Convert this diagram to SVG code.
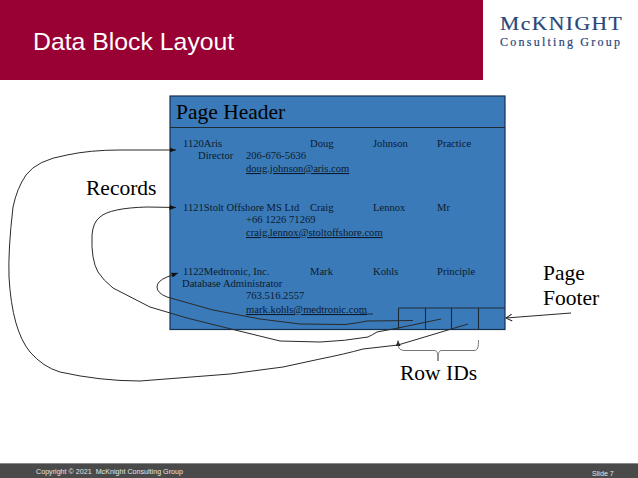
<svg xmlns="http://www.w3.org/2000/svg" width="638" height="478" viewBox="0 0 638 478">
<style>
.s{font-family:"Liberation Serif","Times New Roman",serif;fill:#000}
.r{font-size:10.6px;fill:#0c1a2e}
.b{font-size:21.5px}
.u{text-decoration:underline}
.l{fill:none;stroke:#1e2a38;stroke-width:1.1}
.c{fill:none;stroke:#2a2a2a;stroke-width:1}
.g{fill:none;stroke:#666;stroke-width:0.9}
.a{font-family:"Liberation Sans",Arial,sans-serif}
.t{font-size:7.15px;fill:#e4e4e4;white-space:pre}
</style>
<defs>
<marker id="ah" markerWidth="8" markerHeight="8" refX="6.500" refY="3" orient="auto" markerUnits="userSpaceOnUse"><path d="M0 0.500L6.500 3L0 5.500Z" fill="#111"/></marker>
<marker id="oh" markerWidth="9" markerHeight="9" refX="7" refY="4" orient="auto" markerUnits="userSpaceOnUse"><path d="M1 0.500L7 4L1 7.500" fill="none" stroke="#222" stroke-width="1"/></marker>
</defs>
<g id="banner">
<rect x="0" y="0" width="483" height="80" fill="#990033"/>
<text class="a" x="33" y="50" font-size="24.800" fill="#fff">Data Block Layout</text>
</g>
<g id="logo">
<text transform="translate(500 30) scale(1.2 1)" font-family="Liberation Serif,serif" font-size="18" fill="#27477a" stroke="#27477a" stroke-width="0.2" textLength="101.500" lengthAdjust="spacing">McKNIGHT</text>
<text x="500" y="46" font-family="Liberation Serif,serif" font-size="12" fill="#27477a" stroke="#27477a" stroke-width="0.2" textLength="120" lengthAdjust="spacing">Consulting Group</text>
</g>
<g id="page">
<rect x="170" y="96" width="335" height="233.500" fill="#3a7ab8" stroke="#16304f" stroke-width="1.200"/>
<line class="l" x1="170" y1="127.500" x2="505" y2="127.500"/>
<text class="s" x="176" y="119" font-size="21.500" fill="#0c1a2e">Page Header</text>
</g>
<g id="record-1120" class="s r">
<text x="183" y="147">1120Aris</text><text x="310" y="147">Doug</text><text x="373" y="147">Johnson</text><text x="437" y="147">Practice</text>
<text x="198" y="159">Director</text><text x="246" y="159">206-676-5636</text>
<text class="u" x="246" y="172">doug.johnson@aris.com</text>
</g>
<g id="record-1121" class="s r">
<text x="183" y="211">1121Stolt Offshore MS Ltd</text><text x="310" y="211">Craig</text><text x="373" y="211">Lennox</text><text x="437" y="211">Mr</text>
<text x="246" y="223">+66 1226 71269</text>
<text class="u" x="246" y="236">craig.lennox@stoltoffshore.com</text>
</g>
<g id="record-1122" class="s r">
<text x="183" y="275">1122Medtronic, Inc.</text><text x="310" y="275">Mark</text><text x="373" y="275">Kohls</text><text x="437" y="275">Principle</text>
<text x="182" y="287">Database Administrator</text>
<text x="246" y="299">763.516.2557</text>
<text class="u" x="246" y="313">mark.kohls@medtronic.com</text>
<line x1="360" y1="314" x2="373" y2="314" stroke="#0c1a2e" stroke-width="0.800"/>
</g>
<g id="footer-slots">
<path class="l" d="M398.500 308H505M398.500 308V329M425.500 308V329M451.500 308V329M478.500 308V329"/>
</g>
<g id="connectors">
<path class="c" marker-end="url(#ah)" d="M413 320.500L367 321Q358 323 345 324.500L300 324L260 319L213 310L167 297Q157 293 157 287Q157 281 167 277L178 273"/>
<path class="c" marker-end="url(#ah)" d="M441 319L398 328L377 332Q372 335 368 337Q345 341 320 342L280 341L227 328L187 318L150 307L113 288Q103 280 98 272Q91 260 92 235Q93 222 100 217Q110 208 147 207L176 207.500"/>
<path class="c" marker-end="url(#ah)" d="M468 324L398 345L363 349Q345 354 320 359L283 367L230 374L140 381Q100 381 60 372Q43 367 30 352Q12 330 9 277Q8 250 13 207Q17 188 26 175Q37 160 67 155Q90 150 120 150L176 150"/>
<path d="M398 340L400.500 346L396 346Z" fill="#111"/>
<path class="c" marker-end="url(#oh)" d="M571 313L506 318"/>
</g>
<g id="row-ids-brace">
<path class="g" d="M398 341C398 348 399 350 404 350.500H434C437 350.500 438 352 438 361M438 361C438 352 439 350.500 442 350.500H474C478 350.500 478.500 347 478.500 340"/>
</g>
<g id="labels" class="s b">
<text x="86" y="195">Records</text>
<text x="543" y="280">Page</text>
<text x="543" y="305">Footer</text>
<text x="400" y="380">Row IDs</text>
</g>
<g id="footer-bar">
<rect x="0" y="463" width="638" height="15" fill="#4a4a4a"/>
<rect x="0" y="463" width="638" height="1" fill="#8a8a8a"/>
<text class="a t" x="36" y="474">Copyright © 2021  McKnight Consulting Group</text>
<text class="a t" x="592" y="475.500">Slide 7</text>
</g>
</svg>
